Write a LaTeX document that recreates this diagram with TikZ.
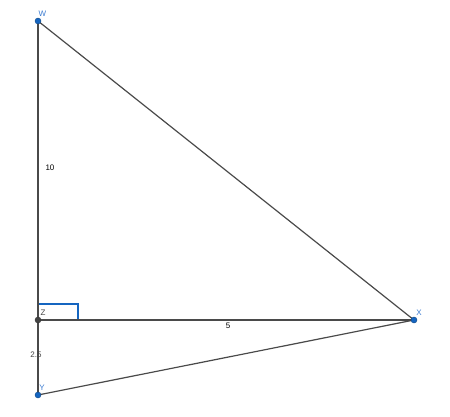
\documentclass[tikz,border=0pt]{standalone}
\usepackage{fontspec}
\setmainfont{Liberation Sans}
\definecolor{ptblue}{HTML}{1565C0}
\definecolor{lblblue}{HTML}{3B7BD0}
\definecolor{seg}{HTML}{4A4A4A}
\definecolor{lblgray}{HTML}{444444}
\begin{document}
\begin{tikzpicture}[x=1pt,y=-1pt,
  segline/.style={draw=seg,line width=1.2pt},
  pt/.style={circle,fill=ptblue,draw=ptblue!70!black,line width=0.4pt,inner sep=0pt,minimum size=6pt},
  ptgray/.style={circle,fill=lblgray,draw=black!80,line width=0.4pt,inner sep=0pt,minimum size=6pt},
  lbl/.style={font=\fontsize{8}{9}\selectfont,inner sep=0pt},
  ]
\useasboundingbox (0,0) rectangle (450,416);
\draw[ptblue,line width=1.1pt,fill=white] (38,304) rectangle (78,320);
\coordinate (w) at (38,21);
\coordinate (z) at (38,320);
\coordinate (x) at (414,320);
\coordinate (y) at (38,395);
\draw[segline] (w) -- (z);
\draw[segline] (z) -- (x);
\draw[segline] (w) -- (x);
\draw[segline] (z) -- (y);
\draw[segline] (y) -- (x);
\node[pt] (W) at (w) {};
\node[ptgray] (Z) at (z) {};
\node[pt] (X) at (x) {};
\node[pt] (Y) at (y) {};
\node[lbl,text=lblblue] (lw) at (42.5,13.5) {W};
\node[lbl,text=lblgray] (lz) at (43,312.5) {Z};
\node[lbl,text=lblblue] (lx) at (419,312.5) {X};
\node[lbl,text=lblblue] (ly) at (42,387.5) {Y};
\node[lbl,text=black] (l10) at (50,168) {10};
\node[lbl,text=black] (l5) at (228,326) {5};
\node[lbl,text=lblgray] (l25) at (36,355) {2.5};
\end{tikzpicture}
\end{document}
